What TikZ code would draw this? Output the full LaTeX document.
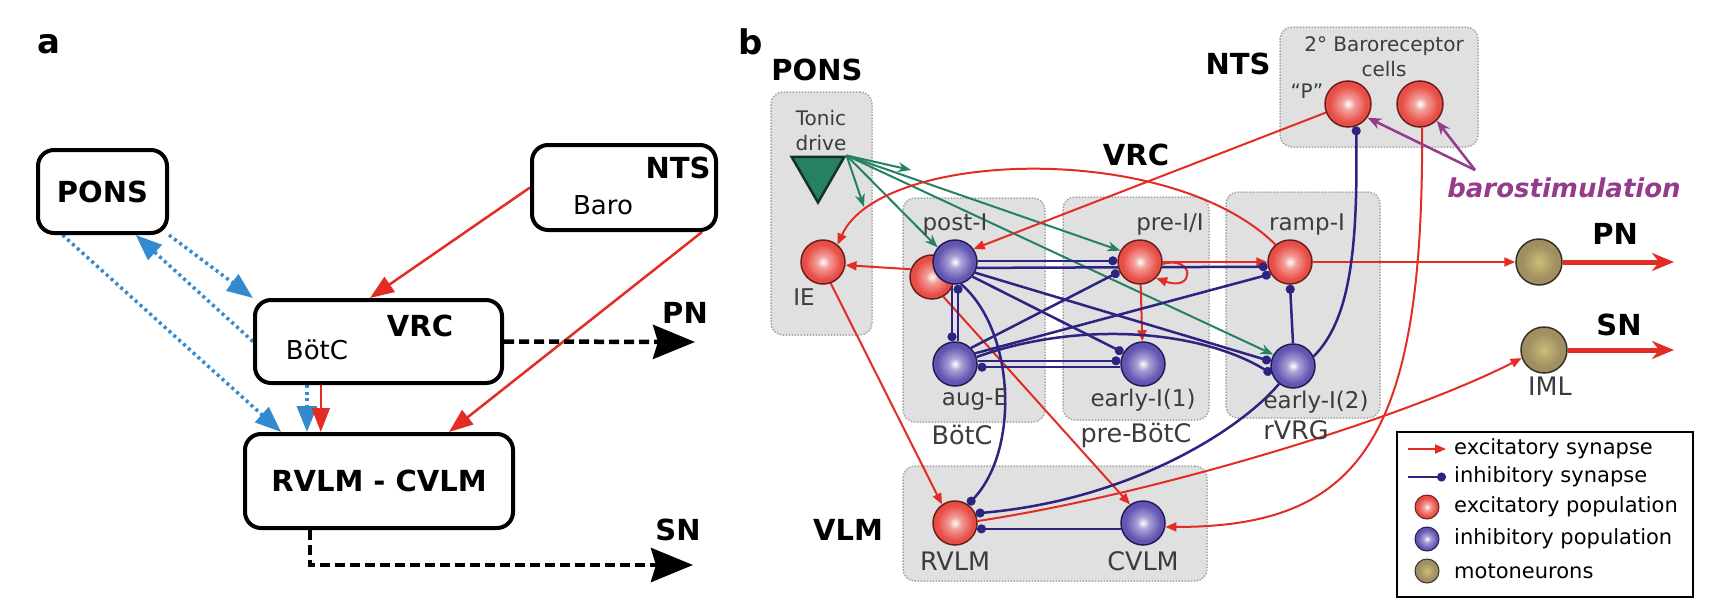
\documentclass[tikz,border=0pt]{standalone}
\usepackage{fontspec}
\setmainfont{DejaVu Sans}
\usetikzlibrary{arrows.meta,positioning,calc,shapes.geometric}
\definecolor{excred}{RGB}{226,44,36}
\definecolor{inhblue}{RGB}{44,36,128}
\definecolor{dotblue}{RGB}{52,138,206}
\definecolor{tonicgreen}{RGB}{38,128,98}
\definecolor{tonicedge}{RGB}{20,50,40}
\definecolor{baropurple}{RGB}{150,58,140}
\definecolor{regiongray}{RGB}{224,224,224}
\definecolor{regionedge}{RGB}{165,165,165}
\definecolor{excfill}{RGB}{232,78,70}
\definecolor{excedge}{RGB}{105,30,28}
\definecolor{inhfill}{RGB}{98,86,178}
\definecolor{inhedge}{RGB}{34,28,84}
\definecolor{motofill}{RGB}{150,132,92}
\definecolor{motoinner}{RGB}{205,190,120}
\definecolor{motoedge}{RGB}{55,48,38}
\definecolor{lblgray}{RGB}{60,60,60}
\pgfdeclareradialshading{excball}{\pgfpoint{0bp}{0bp}}{color(0bp)=(white); color(7bp)=(excfill!55!white); color(20bp)=(excfill); color(50bp)=(excfill!88!black)}
\pgfdeclareradialshading{inhball}{\pgfpoint{0bp}{0bp}}{color(0bp)=(white); color(7bp)=(inhfill!55!white); color(20bp)=(inhfill); color(50bp)=(inhfill!88!black)}
\pgfdeclareradialshading{motoball}{\pgfpoint{0bp}{0bp}}{color(0bp)=(motoinner); color(18bp)=(motofill!80!motoinner); color(50bp)=(motofill)}
\pgfdeclarelayer{regions}
\pgfdeclarelayer{edges}
\pgfsetlayers{regions,edges,main}

\begin{document}
\begin{tikzpicture}[
    x=1pt, y=-1pt,
    panel/.style={font=\fontsize{34}{36}\selectfont\bfseries},
    hdr/.style={font=\fontsize{29}{31}\selectfont\bfseries},
    txt/.style={font=\fontsize{26}{28}\selectfont},
    lbl/.style={font=\fontsize{23}{25}\selectfont, text=lblgray, inner sep=1pt},
    reglbl/.style={font=\fontsize{25.5}{27}\selectfont, text=lblgray, inner sep=1pt},
    small/.style={font=\fontsize{20}{25}\selectfont, text=lblgray, inner sep=1pt, align=center},
    leg/.style={font=\fontsize{21}{23}\selectfont, anchor=west, inner sep=0pt},
    baro/.style={font=\fontsize{26}{28}\selectfont\bfseries\itshape, text=baropurple},
    box/.style={rectangle, draw, line width=4pt, rounded corners=16pt, fill=white},
    region/.style={rectangle, draw=regionedge, fill=regiongray, line width=1.5pt, dash pattern=on 1.5pt off 1.5pt, rounded corners=12pt, inner sep=0pt},
    excpop/.style={circle, minimum size=44pt, inner sep=0pt, draw=excedge, line width=1.5pt, shade, shading=excball},
    inhpop/.style={circle, minimum size=44pt, inner sep=0pt, draw=inhedge, line width=1.5pt, shade, shading=inhball},
    motopop/.style={circle, minimum size=46pt, inner sep=0pt, draw=motoedge, line width=1.5pt, shade, shading=motoball},
    tonicdrive/.style={regular polygon, regular polygon sides=3, shape border rotate=180, minimum size=61pt, inner sep=0pt, fill=tonicgreen, draw=tonicedge, line width=2.5pt},
    dotarr/.style={draw=dotblue, line width=3.5pt, dash pattern=on 3pt off 3.5pt, -{Triangle[length=26pt,width=20pt]}},
    redarr/.style={draw=excred, line width=2.5pt, -{Triangle[length=24pt,width=18pt]}},
    dashout/.style={draw=black, line width=4.5pt, dash pattern=on 10pt off 5pt, -{Stealth[length=42pt,width=34pt,inset=5pt]}},
    exc/.style={draw=excred, line width=2pt, -{Triangle[length=11pt,width=9pt]}},
    inh/.style={draw=inhblue, line width=2.5pt, -{Circle[length=9pt]}},
    tonic/.style={draw=tonicgreen, line width=2pt, -{Stealth[length=13pt,width=10pt]}},
    outarr/.style={draw=excred, line width=5pt, -{Stealth[length=22pt,width=18pt]}},
    baroarr/.style={draw=baropurple, line width=2.5pt, -{Stealth[length=14pt,width=11pt]}}
]

\begin{pgfonlayer}{regions}
\fill[white, use as bounding box] (0,0) rectangle (1714,600);
\end{pgfonlayer}

% Panel a: block scheme
\node[panel] (labA) at (49,44) {a};
\node[box, hdr, minimum width=129pt, minimum height=83pt] (pons) at (102.5,191.5) {PONS};
\node[box, minimum width=184pt, minimum height=85pt] (nts) at (624,187.5) {};
\node[hdr] (ntsLbl) at (678,168) {NTS};
\node[txt] (baroLbl) at (603,205) {Baro};
\node[box, minimum width=247pt, minimum height=83pt] (vrc) at (378.5,341.5) {};
\node[hdr] (vrcLbl) at (420,326) {VRC};
\node[txt] (botcA) at (317,350) {BötC};
\node[box, hdr, minimum width=268pt, minimum height=94pt] (rvlm) at (379,481) {RVLM - CVLM};
\node[hdr] (pnA) at (685,313) {PN};
\node[hdr] (snA) at (678,530) {SN};
\coordinate (pnEnd) at (695,342);
\coordinate (snEnd) at (693,565);
\coordinate (vrcBlue) at ($(vrc.south west)!0.215!(vrc.south east)$);
\coordinate (vrcRed) at ($(vrc.south west)!0.27!(vrc.south east)$);

\begin{pgfonlayer}{edges}
\draw[dotarr] (pons.south east) -- (vrc.north west);
\draw[dotarr] (vrc.west) -- ($(pons.south)!0.5!(pons.south east)$);
\draw[dotarr] ($(pons.south west)!0.2!(pons.south east)$) -- ($(rvlm.north west)!0.14!(rvlm.north east)$);
\draw[dotarr] (vrcBlue) -- (vrcBlue |- rvlm.north);
\draw[redarr] (vrcRed) -- (vrcRed |- rvlm.north);
\draw[redarr] (nts.west) -- ($(vrc.north west)!0.466!(vrc.north east)$);
\draw[redarr] ($(nts.south east)+(-16,0)$) -- ($(rvlm.north east)+(-66,0)$);
\draw[dashout] (vrc.east) -- (pnEnd);
\draw[dashout] ($(rvlm.south west)+(67,0)$) |- (snEnd);
\end{pgfonlayer}

% Panel b: network model
\node[panel] (labB) at (751,42) {b};
\begin{pgfonlayer}{regions}
\node[region, minimum width=101pt, minimum height=243pt] (ponsReg) at (821.5,213.5) {};
\node[region, minimum width=142pt, minimum height=224pt] (botcReg) at (974,310) {};
\node[region, minimum width=146pt, minimum height=223pt] (prebotcReg) at (1136,308.5) {};
\node[region, minimum width=154pt, minimum height=226pt] (rvrgReg) at (1303,305) {};
\node[region, minimum width=198pt, minimum height=120pt] (ntsReg) at (1379,87) {};
\node[region, minimum width=304pt, minimum height=115pt] (vlmReg) at (1055,523.5) {};
\end{pgfonlayer}

\node[hdr] (ponsB) at (817,70) {PONS};
\node[hdr] (vrcB) at (1136,155) {VRC};
\node[hdr] (ntsB) at (1238,64) {NTS};
\node[hdr] (vlmB) at (848,530) {VLM};
\node[hdr] (pnB) at (1615,234) {PN};
\node[hdr] (snB) at (1619,325) {SN};
\node[reglbl, below=1pt of botcReg, xshift=-12pt] (botcLbl) {BötC};
\node[reglbl, below=1pt of prebotcReg] (prebotcLbl) {pre-BötC};
\node[reglbl, below=1pt of rvrgReg, xshift=-7pt] (rvrgLbl) {rVRG};

% populations
\node[small] (tonicLbl) at (821,131) {Tonic\\drive};
\node[tonicdrive] (tonic) at (818,172) {};
\node[excpop] (ie) at (823,262) {};
\node[excpop] (postIr) at (932,277) {};
\node[inhpop] (postI) at (955,262) {};
\node[excpop] (preI) at (1140,262) {};
\node[excpop] (rampI) at (1290,262) {};
\node[inhpop] (augE) at (955,364) {};
\node[inhpop] (earlyI) at (1143,364) {};
\node[inhpop] (earlyII) at (1293,366) {};
\node[excpop] (rvlmC) at (955,523) {};
\node[inhpop] (cvlmC) at (1143,523) {};
\node[excpop, minimum size=46pt] (baroP) at (1348,104) {};
\node[excpop, minimum size=46pt] (baroB) at (1420,104) {};
\node[motopop] (pnM) at (1539,262) {};
\node[motopop] (iml) at (1544,350) {};

\node[lbl, above=3pt of postI] (postILbl) {post-I};
\node[lbl, above=3pt of preI, xshift=30pt] (preILbl) {pre-I/I};
\node[lbl, above=3pt of rampI, xshift=17pt] (rampILbl) {ramp-I};
\node[lbl, below=1pt of augE, xshift=20pt] (augELbl) {aug-E};
\node[lbl, below=1pt of earlyI] (earlyILbl) {early-I(1)};
\node[lbl, below=1pt of earlyII, xshift=23pt] (earlyIILbl) {early-I(2)};
\node[lbl, below=3pt of ie, xshift=-19pt] (ieLbl) {IE};
\node[reglbl, below=5pt of rvlmC] (rvlmLbl) {RVLM};
\node[reglbl, below=5pt of cvlmC] (cvlmLbl) {CVLM};
\node[reglbl, below=2pt of iml, xshift=6pt] (imlLbl) {IML};
\node[small] (baroCells) at (1384,57) {2° Baroreceptor\\cells};
\node[small] (pLbl) at (1307,91) {“P”};
\node[baro] (baroTxt) at (1564,188) {barostimulation};
\coordinate (baroSrc) at (1475,170);
\coordinate (tonicEndA) at (911,170);
\coordinate (tonicEndB) at (864,207);
\coordinate (pnOut) at (1674,262);
\coordinate (snOut) at (1674,350);

\begin{pgfonlayer}{edges}
% tonic drive
\draw[tonic] (tonic.corner 2) -- (tonicEndA);
\draw[tonic] (tonic.corner 2) -- (tonicEndB);
\draw[tonic] (tonic.corner 2) -- (postI.140);
\draw[tonic] (tonic.corner 2) -- (preI.150);
\draw[tonic] (tonic.corner 2) -- (earlyII.150);
% excitatory synapses
\draw[exc] (postIr.160) -- (ie.-8);
\draw[exc] (rampI.130) .. controls (1170,140) and (880,150) .. (ie.50);
\draw[exc] (baroP) -- (postI.35);
\draw[exc] (preI) -- (rampI);
\draw[exc] (preI.-5) .. controls (1195,255) and (1195,292) .. (preI.-45);
\draw[exc] (preI) -- (earlyI);
\draw[exc] (rampI) -- (pnM);
\draw[exc] (ie.-70) -- (rvlmC.125);
\draw[exc] (postIr.-60) -- (cvlmC.125);
\draw[exc] (rvlmC.5) .. controls (1150,495) and (1400,420) .. (iml.200);
\draw[exc] (baroB.-85) .. controls (1424,440) and (1360,527) .. (cvlmC.-10);
\draw[outarr] (pnM) -- (pnOut);
\draw[outarr] (iml) -- (snOut);
% inhibitory synapses
\draw[inh] ([xshift=-3pt]postI.south) -- ([xshift=-3pt]augE.north);
\draw[inh] ([xshift=3pt]augE.north) -- ([xshift=3pt]postI.south);
\draw[inh] (postI.3) -- (preI.177);
\draw[inh] (augE.45) -- (preI.205);
\draw[inh] (postI.-15) -- (rampI.192);
\draw[inh] (augE.28) -- (rampI.212);
\draw[inh] (postI.-40) -- (earlyI.150);
\draw[inh] (postI.-28) -- (earlyII.168);
\draw[inh] (augE.8) -- (earlyI.172);
\draw[inh] (earlyI.188) -- (augE.-8);
\draw[inh] (augE.18) .. controls (1080,320) and (1200,330) .. (earlyII.200);
\draw[inh] (earlyII.north) -- (rampI.south);
\draw[inh] (earlyII.25) .. controls (1350,320) and (1358,250) .. (baroP.-70);
\draw[inh] (earlyII.232) .. controls (1240,430) and (1130,500) .. (rvlmC.25);
\draw[inh] (postI.-75) .. controls (1015,330) and (1020,450) .. (rvlmC.55);
\draw[inh] (cvlmC.195) -- (rvlmC.-15);
% barostimulation
\draw[baroarr] (baroSrc) -- (baroP.-35);
\draw[baroarr] (baroSrc) -- (baroB.-45);
\end{pgfonlayer}

% Legend
\node[draw, line width=2pt, minimum width=296pt, minimum height=165pt, inner sep=0pt] (legend) at (1545,514.5) {};
\coordinate (legExcA) at ($(legend.north west)+(12,18)$);
\coordinate (legExcB) at ($(legend.north west)+(50,18)$);
\coordinate (legInhA) at ($(legend.north west)+(12,46)$);
\coordinate (legInhB) at ($(legend.north west)+(50,46)$);
\draw[exc] (legExcA) -- (legExcB);
\draw[inh] (legInhA) -- (legInhB);
\node[excpop, minimum size=24pt, line width=1pt] (legExc) at ($(legend.north west)+(31,76)$) {};
\node[inhpop, minimum size=24pt, line width=1pt] (legInh) at ($(legend.north west)+(31,108)$) {};
\node[motopop, minimum size=24pt, line width=1pt] (legMoto) at ($(legend.north west)+(31,140)$) {};
\node[leg] (legT1) at ($(legend.north west)+(58,18)$) {excitatory synapse};
\node[leg] (legT2) at ($(legend.north west)+(58,46)$) {inhibitory synapse};
\node[leg] (legT3) at ($(legend.north west)+(58,76)$) {excitatory population};
\node[leg] (legT4) at ($(legend.north west)+(58,108)$) {inhibitory population};
\node[leg] (legT5) at ($(legend.north west)+(58,140)$) {motoneurons};

\end{tikzpicture}
\end{document}
